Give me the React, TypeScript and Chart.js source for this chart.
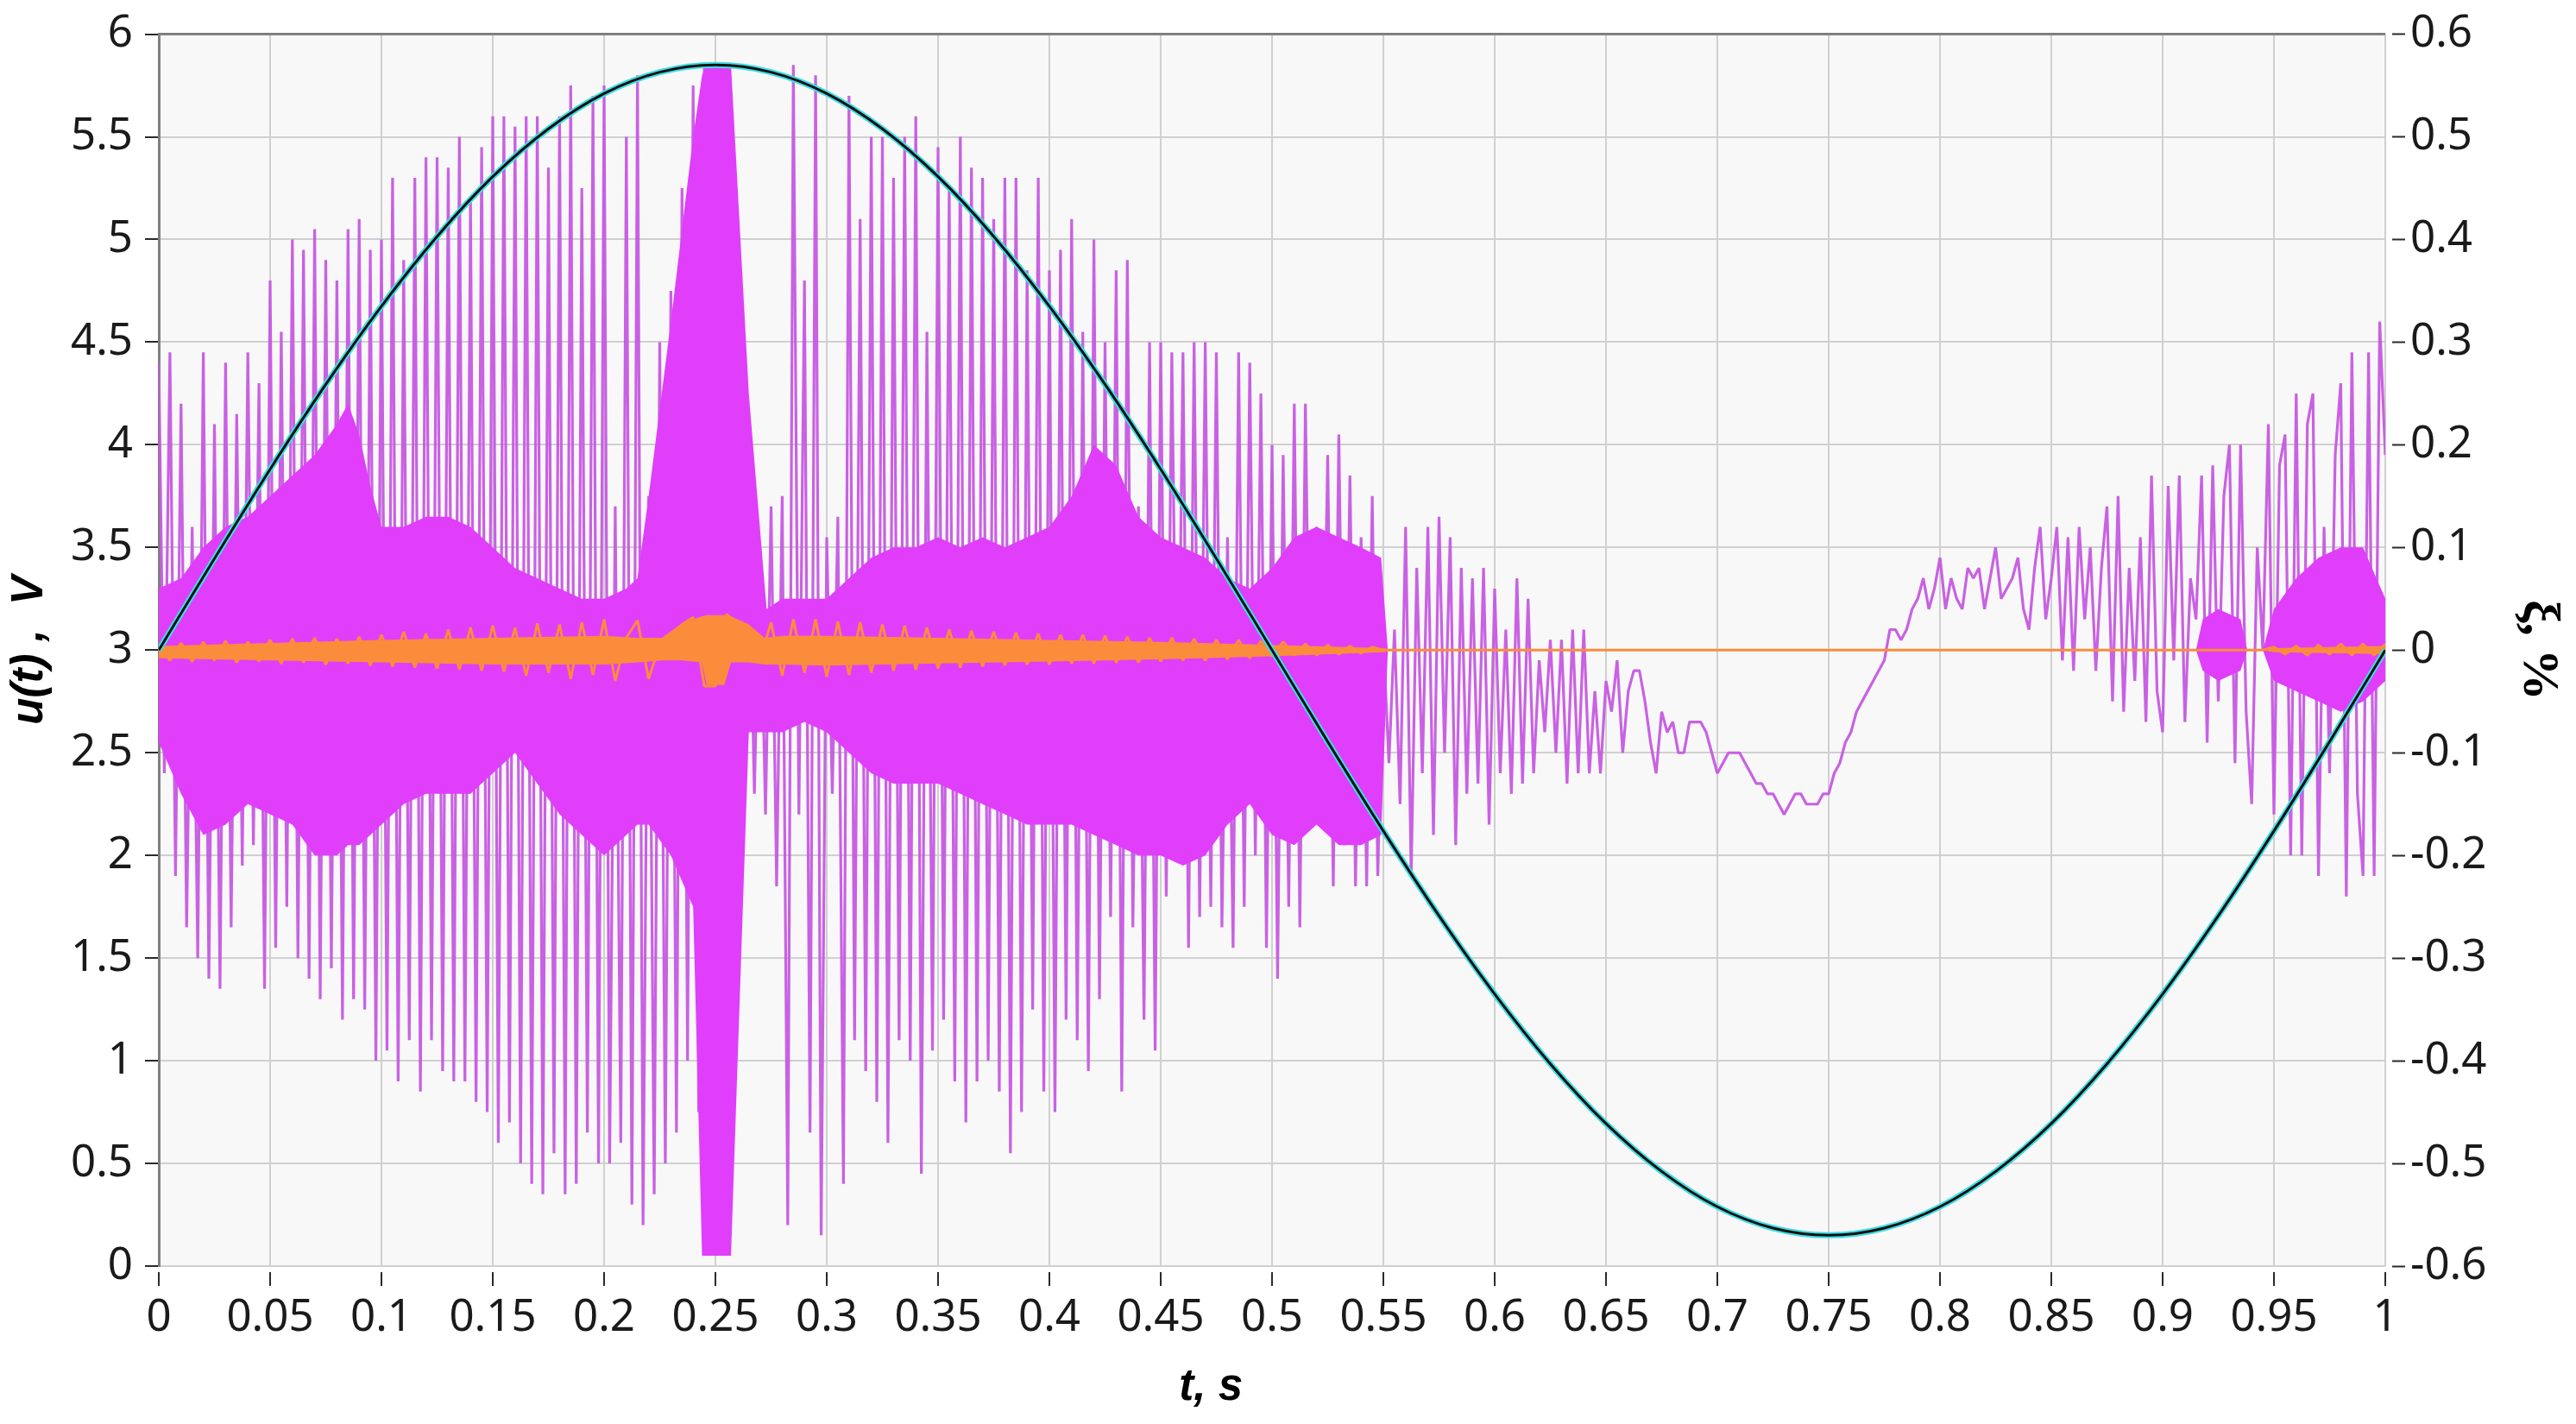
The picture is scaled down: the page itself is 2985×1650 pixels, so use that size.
import React, { useEffect, useRef } from 'react';
import { Chart, registerables } from 'chart.js';

Chart.register(...registerables);

const W = 2985;
const H = 1650;

// ---- time bases (sampling steps of the recorded series) ----
const errStep = 0.0025; // magenta error signal sampling step, s
const orangeStep = 0.005; // orange error signal sampling step, s
const sineStep = 0.025; // voltage curve sampling step, s

// ---- u(t), V : reference (cyan) and reconstructed (black) ----
const refVoltage = [
  3.0, 3.446, 3.881, 4.294, 4.675, 5.015, 5.306, 5.539, 5.711, 5.815,
  5.85, 5.815, 5.711, 5.539, 5.306, 5.015, 4.675, 4.294, 3.881, 3.446,
  3.0, 2.554, 2.119, 1.706, 1.325, 0.985, 0.694, 0.461, 0.289, 0.185,
  0.15, 0.185, 0.289, 0.461, 0.694, 0.985, 1.325, 1.706, 2.119, 2.554,
  3.0,
];
const modelVoltage = [
  3.0, 3.446, 3.881, 4.294, 4.675, 5.015, 5.306, 5.539, 5.711, 5.815,
  5.85, 5.815, 5.711, 5.539, 5.306, 5.015, 4.675, 4.294, 3.881, 3.446,
  3.0, 2.554, 2.119, 1.706, 1.325, 0.985, 0.694, 0.461, 0.289, 0.185,
  0.15, 0.185, 0.289, 0.461, 0.694, 0.985, 1.325, 1.706, 2.119, 2.554,
  3.0,
];

// ---- magenta error ξ, % (samples every errStep) ----
const magentaPct = [
  0.28, -0.12, 0.29, -0.22, 0.24, -0.27, 0.12, -0.30, 0.29, -0.32, 0.22, -0.33, 0.28, -0.27, 0.23, -0.21, 0.29, -0.19, 0.26, -0.33,
  0.36, -0.29, 0.31, -0.25, 0.40, -0.30, 0.39, -0.32, 0.41, -0.34, 0.38, -0.31, 0.36, -0.36, 0.41, -0.34, 0.42, -0.35, 0.39, -0.40,
  0.40, -0.39, 0.46, -0.42, 0.38, -0.38, 0.46, -0.43, 0.48, -0.38, 0.48, -0.41, 0.47, -0.42, 0.50, -0.42, 0.44, -0.44, 0.49, -0.45,
  0.52, -0.48, 0.52, -0.46, 0.51, -0.50, 0.52, -0.52, 0.52, -0.53, 0.47, -0.49, 0.52, -0.53, 0.55, -0.52, 0.45, -0.47, 0.54, -0.50,
  0.55, -0.50, 0.14, -0.48, 0.50, -0.54, 0.56, -0.56, 0.15, -0.53, 0.30, -0.50, 0.35, -0.47, 0.45, -0.40, 0.55, -0.45, 0.57, -0.59,
  0.57, -0.59, 0.57, -0.15, 0.30, -0.12, 0.12, -0.14, 0.10, -0.16, 0.14, -0.23, 0.15, -0.56, 0.57, -0.16, 0.36, -0.47, 0.56, -0.57,
  0.11, -0.14, 0.13, -0.52, 0.54, -0.38, 0.42, -0.41, 0.50, -0.44, 0.50, -0.48, 0.46, -0.38, 0.50, -0.40, 0.52, -0.51, 0.31, -0.39,
  0.49, -0.36, 0.45, -0.42, 0.50, -0.46, 0.47, -0.42, 0.46, -0.40, 0.42, -0.43, 0.46, -0.49, 0.46, -0.45, 0.37, -0.35, 0.46, -0.43,
  0.37, -0.45, 0.39, -0.36, 0.42, -0.38, 0.31, -0.41, 0.40, -0.34, 0.30, -0.26, 0.37, -0.43, 0.38, -0.27, 0.14, -0.36, 0.30, -0.39,
  0.30, -0.24, 0.29, -0.17, 0.29, -0.29, 0.30, -0.26, 0.30, -0.25, 0.29, -0.27, 0.11, -0.29, 0.29, -0.25, 0.28, -0.20, 0.25, -0.29,
  0.20, -0.32, 0.19, -0.25, 0.24, -0.27, 0.24, -0.17, 0.12, -0.13, 0.19, -0.23, 0.21, -0.19, 0.17, -0.23, 0.11, -0.23, 0.15, -0.22,
  0.01, -0.11, 0.02, -0.15, 0.12, -0.22, 0.08, -0.12, 0.12, -0.18, 0.13, -0.10, 0.11, -0.19, 0.08, -0.14, 0.07, -0.13, 0.08, -0.17,
  0.06, -0.12, 0.02, -0.14, 0.07, -0.13, 0.05, -0.12, -0.01, -0.08, 0.01, -0.10, 0.01, -0.13, 0.02, -0.12, 0.02, -0.12, -0.04, -0.12,
  -0.03, -0.06, -0.01, -0.10, -0.04, -0.02, -0.02, -0.05, -0.09, -0.12, -0.06, -0.08, -0.07, -0.10, -0.10, -0.07, -0.07, -0.07, -0.08, -0.10,
  -0.12, -0.11, -0.10, -0.10, -0.10, -0.11, -0.12, -0.13, -0.13, -0.14, -0.14, -0.15, -0.16, -0.15, -0.14, -0.14, -0.15, -0.15, -0.15, -0.14,
  -0.14, -0.12, -0.11, -0.09, -0.08, -0.06, -0.05, -0.04, -0.03, -0.02, -0.01, 0.02, 0.02, 0.01, 0.02, 0.04, 0.05, 0.07, 0.04, 0.06,
  0.09, 0.04, 0.07, 0.05, 0.04, 0.08, 0.07, 0.08, 0.04, 0.07, 0.10, 0.05, 0.06, 0.07, 0.09, 0.04, 0.02, 0.08, 0.12, 0.03,
  0.07, 0.12, -0.01, 0.11, -0.02, 0.12, 0.03, 0.10, -0.02, 0.08, 0.14, -0.05, 0.15, -0.06, 0.08, -0.03, 0.11, -0.07, 0.17, -0.04,
  -0.08, 0.16, -0.01, 0.17, -0.07, 0.07, 0.03, 0.17, -0.09, 0.18, -0.05, 0.15, 0.20, -0.11, 0.20, -0.06, -0.15, 0.10, 0.00, 0.22,
  -0.16, 0.18, 0.21, -0.20, 0.25, -0.20, 0.22, 0.25, -0.22, 0.12, -0.12, 0.19, 0.26, -0.24, 0.29, -0.14, -0.22, 0.29, -0.22, 0.32,
  0.19,
];

// ---- dense core of the magenta trace (upper / lower edge, %) ----
const coreT = [
  0, 0.01, 0.02, 0.03, 0.04, 0.05, 0.06, 0.07, 0.08, 0.085,
  0.09, 0.095, 0.1, 0.11, 0.12, 0.13, 0.14, 0.15, 0.16, 0.17,
  0.18, 0.19, 0.2, 0.21, 0.215, 0.22, 0.23, 0.24, 0.244, 0.246,
  0.254, 0.257, 0.265, 0.273, 0.28, 0.29, 0.3, 0.31, 0.32, 0.33,
  0.34, 0.35, 0.36, 0.37, 0.38, 0.39, 0.4, 0.41, 0.42, 0.43,
  0.44, 0.45, 0.46, 0.47, 0.48, 0.49, 0.5, 0.51, 0.52, 0.53,
  0.54, 0.549, 0.552, 0.915, 0.918, 0.925, 0.935, 0.938, 0.945, 0.95,
  0.96, 0.97, 0.98, 0.99, 1.0,
];
const coreHi = [
  0.06, 0.07, 0.10, 0.12, 0.13, 0.15, 0.17, 0.19, 0.22, 0.24,
  0.21, 0.16, 0.12, 0.12, 0.13, 0.13, 0.12, 0.10, 0.08, 0.07,
  0.06, 0.05, 0.05, 0.06, 0.07, 0.15, 0.32, 0.50, 0.56, 0.57,
  0.57, 0.57, 0.25, 0.04, 0.05, 0.05, 0.05, 0.07, 0.09, 0.10,
  0.10, 0.11, 0.10, 0.11, 0.10, 0.11, 0.12, 0.15, 0.20, 0.18,
  0.13, 0.11, 0.10, 0.09, 0.07, 0.06, 0.08, 0.11, 0.12, 0.11,
  0.10, 0.09, 0, 0, 0.03, 0.04, 0.03, 0, 0, 0.04,
  0.07, 0.09, 0.10, 0.10, 0.05,
];
const coreLo = [
  -0.09, -0.14, -0.18, -0.17, -0.15, -0.16, -0.17, -0.20, -0.20, -0.19,
  -0.19, -0.18, -0.17, -0.15, -0.14, -0.14, -0.14, -0.12, -0.10, -0.13,
  -0.16, -0.18, -0.20, -0.18, -0.17, -0.17, -0.20, -0.25, -0.59, -0.59,
  -0.59, -0.59, -0.08, -0.08, -0.08, -0.07, -0.08, -0.10, -0.12, -0.13,
  -0.13, -0.13, -0.14, -0.15, -0.16, -0.17, -0.17, -0.17, -0.18, -0.19,
  -0.20, -0.20, -0.21, -0.20, -0.17, -0.15, -0.18, -0.19, -0.17, -0.19,
  -0.19, -0.18, 0, 0, -0.02, -0.03, -0.02, 0, 0, -0.03,
  -0.04, -0.05, -0.06, -0.05, -0.03,
];

// ---- orange error ξ, % (samples every orangeStep) ----
const orangePct = [
  0.006, -0.010, 0.007, -0.011, 0.008, -0.010, 0.009, -0.012, 0.008, -0.011,
  0.010, -0.013, 0.011, -0.012, 0.012, -0.014, 0.011, -0.013, 0.013, -0.015,
  0.015, -0.016, 0.018, -0.017, 0.016, -0.018, 0.020, -0.019, 0.022, -0.020,
  0.024, -0.021, 0.022, -0.025, 0.026, -0.022, 0.025, -0.028, 0.027, -0.024,
  0.030, -0.030, 0.012, 0.029, -0.028, 0.005, 0.015, 0.025, 0.032, -0.035,
  -0.035, 0.035, 0.025, 0.012, -0.010, 0.027, -0.025, 0.030, -0.022, 0.030,
  -0.026, 0.028, -0.024, 0.027, -0.022, 0.025, -0.020, 0.024, -0.019, 0.022,
  -0.018, 0.020, -0.017, 0.019, -0.016, 0.018, -0.015, 0.017, -0.014, 0.016,
  -0.014, 0.015, -0.013, 0.015, -0.013, 0.014, -0.012, 0.013, -0.012, 0.012,
  -0.011, 0.012, -0.010, 0.011, -0.010, 0.010, -0.009, 0.010, -0.008, 0.009,
  -0.006, 0.008, -0.005, 0.006, -0.005, 0.005, -0.004, 0.004, -0.003, 0.003,
  0, 0, 0, 0, 0, 0, 0, 0, 0, 0,
  0, 0, 0, 0, 0, 0, 0, 0, 0, 0,
  0, 0, 0, 0, 0, 0, 0, 0, 0, 0,
  0, 0, 0, 0, 0, 0, 0, 0, 0, 0,
  0, 0, 0, 0, 0, 0, 0, 0, 0, 0,
  0, 0, 0, 0, 0, 0, 0, 0, 0, 0,
  0, 0, 0, 0, 0, 0, 0, 0, 0, 0,
  0, 0, 0, 0, 0, 0, 0, 0, 0, 0,
  0.003, -0.004, 0.004, -0.005, 0.005, -0.004, 0.006, -0.005, 0.006, -0.005,
  0.006,
];

// ---- dense band of the orange trace (upper / lower edge, %) ----
const orangeBandT = [0, 0.05, 0.1, 0.15, 0.2, 0.215, 0.226, 0.235, 0.244, 0.246, 0.254, 0.257, 0.265, 0.272, 0.28, 0.3, 0.35, 0.4, 0.45, 0.5, 0.55, 0.555, 0.945, 0.95, 1.0];
const orangeBandHi = [0.004, 0.007, 0.010, 0.012, 0.014, 0.012, 0.012, 0.026, 0.033, 0.034, 0.034, 0.033, 0.025, 0.012, 0.014, 0.014, 0.012, 0.010, 0.008, 0.005, 0.002, 0, 0, 0.002, 0.004];
const orangeBandLo = [-0.008, -0.010, -0.012, -0.014, -0.014, -0.012, -0.010, -0.010, -0.012, -0.034, -0.034, -0.012, -0.012, -0.014, -0.014, -0.015, -0.013, -0.011, -0.009, -0.006, -0.002, 0, 0, -0.002, -0.004];

// ---- ticks ----
const xTickValues = [0, 0.05, 0.1, 0.15, 0.2, 0.25, 0.3, 0.35, 0.4, 0.45, 0.5, 0.55, 0.6, 0.65, 0.7, 0.75, 0.8, 0.85, 0.9, 0.95, 1];
const xTickLabels = ['0', '0.05', '0.1', '0.15', '0.2', '0.25', '0.3', '0.35', '0.4', '0.45', '0.5', '0.55', '0.6', '0.65', '0.7', '0.75', '0.8', '0.85', '0.9', '0.95', '1'];
const yTickValues = [0, 0.5, 1, 1.5, 2, 2.5, 3, 3.5, 4, 4.5, 5, 5.5, 6];
const yTickLabels = ['0', '0.5', '1', '1.5', '2', '2.5', '3', '3.5', '4', '4.5', '5', '5.5', '6'];
const y1TickValues = [-0.6, -0.5, -0.4, -0.3, -0.2, -0.1, 0, 0.1, 0.2, 0.3, 0.4, 0.5, 0.6];
const y1TickLabels = ['-0.6', '-0.5', '-0.4', '-0.3', '-0.2', '-0.1', '0', '0.1', '0.2', '0.3', '0.4', '0.5', '0.6'];

const xTitle = 't, s';
const yTitle = 'u(t) ,  V';
const y1Title = 'ξ, %';

const TICK_FONT = { family: "'Noto Sans', 'Liberation Sans', sans-serif", size: 51 };
const TITLE_FONT = { family: "'Liberation Sans', Arial, sans-serif", size: 51, weight: 'bold' as const, style: 'italic' as const };
const GRID = '#d0d0d0';
const TICKC = '#2a2a2a';
const MAGENTA = '#e03efb';
const ORANGE = '#fa8c3c';

const plotFrame = {
  id: 'plotFrame',
  beforeDraw(chart: any) {
    const { ctx, chartArea } = chart;
    if (!chartArea) return;
    ctx.save();
    ctx.fillStyle = '#f8f8f8';
    ctx.fillRect(chartArea.left, chartArea.top, chartArea.right - chartArea.left, chartArea.bottom - chartArea.top);
    ctx.restore();
  },
  afterDraw(chart: any) {
    const { ctx, chartArea } = chart;
    if (!chartArea) return;
    ctx.save();
    ctx.strokeStyle = '#808080';
    ctx.lineWidth = 3;
    ctx.beginPath();
    ctx.moveTo(chartArea.left, chartArea.top);
    ctx.lineTo(chartArea.right, chartArea.top);
    ctx.stroke();
    ctx.restore();
  },
};

const hidden = { borderColor: 'rgba(0,0,0,0)', borderWidth: 1, pointRadius: 0 };

export default function App() {
  const ref = useRef<HTMLCanvasElement | null>(null);

  useEffect(() => {
    if (!ref.current) return;
    const refData = refVoltage.map((v, i) => ({ x: i * sineStep, y: v }));
    const modelData = modelVoltage.map((v, i) => ({ x: i * sineStep, y: v }));
    const magData = magentaPct.map((v, i) => ({ x: i * errStep, y: v }));
    const orData = orangePct.map((v, i) => ({ x: i * orangeStep, y: v }));
    const loData = coreT.map((t, i) => ({ x: t, y: coreLo[i] }));
    const hiData = coreT.map((t, i) => ({ x: t, y: coreHi[i] }));
    const obLo = orangeBandT.map((t, i) => ({ x: t, y: orangeBandLo[i] }));
    const obHi = orangeBandT.map((t, i) => ({ x: t, y: orangeBandHi[i] }));

    const chart = new Chart(ref.current, {
      type: 'line',
      data: {
        datasets: [
          {
            label: 'u model',
            data: modelData,
            yAxisID: 'y',
            borderColor: '#111111',
            borderWidth: 3,
            pointRadius: 0,
            cubicInterpolationMode: 'monotone',
            order: 1,
          },
          {
            label: 'u reference',
            data: refData,
            yAxisID: 'y',
            borderColor: '#3fdde4',
            borderWidth: 7,
            pointRadius: 0,
            cubicInterpolationMode: 'monotone',
            order: 2,
          },
          {
            label: 'xi2',
            data: orData,
            yAxisID: 'y1',
            borderColor: ORANGE,
            borderWidth: 3,
            pointRadius: 0,
            borderJoinStyle: 'bevel',
            order: 3,
          },
          { label: 'xi2 band lo', data: obLo, yAxisID: 'y1', ...hidden, fill: false, order: 3.5 },
          { label: 'xi2 band hi', data: obHi, yAxisID: 'y1', ...hidden, fill: '-1', backgroundColor: ORANGE, order: 3.5 },
          { label: 'core lo', data: loData, yAxisID: 'y1', ...hidden, fill: false, order: 4 },
          { label: 'core hi', data: hiData, yAxisID: 'y1', ...hidden, fill: '-1', backgroundColor: MAGENTA, order: 4 },
          {
            label: 'xi1',
            data: magData,
            yAxisID: 'y1',
            borderColor: 'rgba(198, 88, 226, 0.95)',
            borderWidth: 3.2,
            pointRadius: 0,
            borderJoinStyle: 'bevel',
            order: 6,
          },
        ],
      },
      options: {
        animation: false,
        responsive: false,
        maintainAspectRatio: false,
        devicePixelRatio: 1,
        events: [],
        layout: { padding: { top: 33, left: 0, right: 0, bottom: 0 } },
        plugins: {
          legend: { display: false },
          tooltip: { enabled: false },
        },
        scales: {
          x: {
            type: 'linear',
            min: 0,
            max: 1,
            afterBuildTicks: (s: any) => {
              s.ticks = xTickValues.map((v) => ({ value: v }));
            },
            afterFit: (s: any) => {
              s.height = 183;
            },
            grid: {
              color: GRID,
              lineWidth: 2,
              drawTicks: true,
              tickLength: 23,
              tickColor: TICKC,
              tickWidth: 2,
              tickBorderDash: [0, 7, 16, 1000],
            },
            border: { display: false },
            ticks: {
              callback: (_v: any, i: number) => xTickLabels[i],
              font: TICK_FONT,
              color: '#1a1a1a',
              padding: 7,
              maxRotation: 0,
              autoSkip: false,
            },
            title: {
              display: true,
              text: xTitle + '\u00a0'.repeat(10),
              font: TITLE_FONT,
              color: '#000',
              padding: { top: 0, bottom: 11 },
            },
          },
          y: {
            type: 'linear',
            position: 'left',
            min: 0,
            max: 6,
            afterBuildTicks: (s: any) => {
              s.ticks = yTickValues.map((v) => ({ value: v }));
            },
            afterFit: (s: any) => {
              s.width = 184;
            },
            grid: {
              color: GRID,
              lineWidth: 2,
              drawTicks: true,
              tickLength: 21,
              tickColor: TICKC,
              tickWidth: 2,
              tickBorderDash: [0, 5, 16, 1000],
            },
            border: { display: true, color: '#808080', width: 3 },
            ticks: {
              callback: (_v: any, i: number) => yTickLabels[i],
              font: TICK_FONT,
              color: '#1a1a1a',
              padding: 9,
              autoSkip: false,
            },
            title: {
              display: true,
              text: yTitle,
              font: TITLE_FONT,
              color: '#000',
              padding: { top: 4, bottom: 0 },
            },
          },
          y1: {
            type: 'linear',
            position: 'right',
            min: -0.6,
            max: 0.6,
            afterBuildTicks: (s: any) => {
              s.ticks = y1TickValues.map((v) => ({ value: v }));
            },
            afterFit: (s: any) => {
              s.width = 221;
            },
            grid: {
              drawOnChartArea: false,
              drawTicks: true,
              tickLength: 23,
              tickColor: TICKC,
              tickWidth: 2,
              tickBorderDash: [0, 8, 15, 1000],
            },
            border: { display: false },
            ticks: {
              callback: (_v: any, i: number) => y1TickLabels[i],
              font: TICK_FONT,
              color: '#1a1a1a',
              padding: 6,
              autoSkip: false,
            },
            title: {
              display: true,
              text: y1Title,
              font: { family: "'Liberation Serif', 'DejaVu Serif', serif", size: 60, weight: 'bold' },
              color: '#000',
              padding: { top: 9, bottom: 0 },
            },
          },
        },
      },
      plugins: [plotFrame],
    } as any);

    return () => {
      chart.destroy();
    };
  }, []);

  return (
    <div style={{ position: 'fixed', left: 0, top: 0, width: W, height: H, background: '#ffffff' }}>
      <canvas ref={ref} width={W} height={H} style={{ display: 'block', width: W, height: H }} />
    </div>
  );
}
